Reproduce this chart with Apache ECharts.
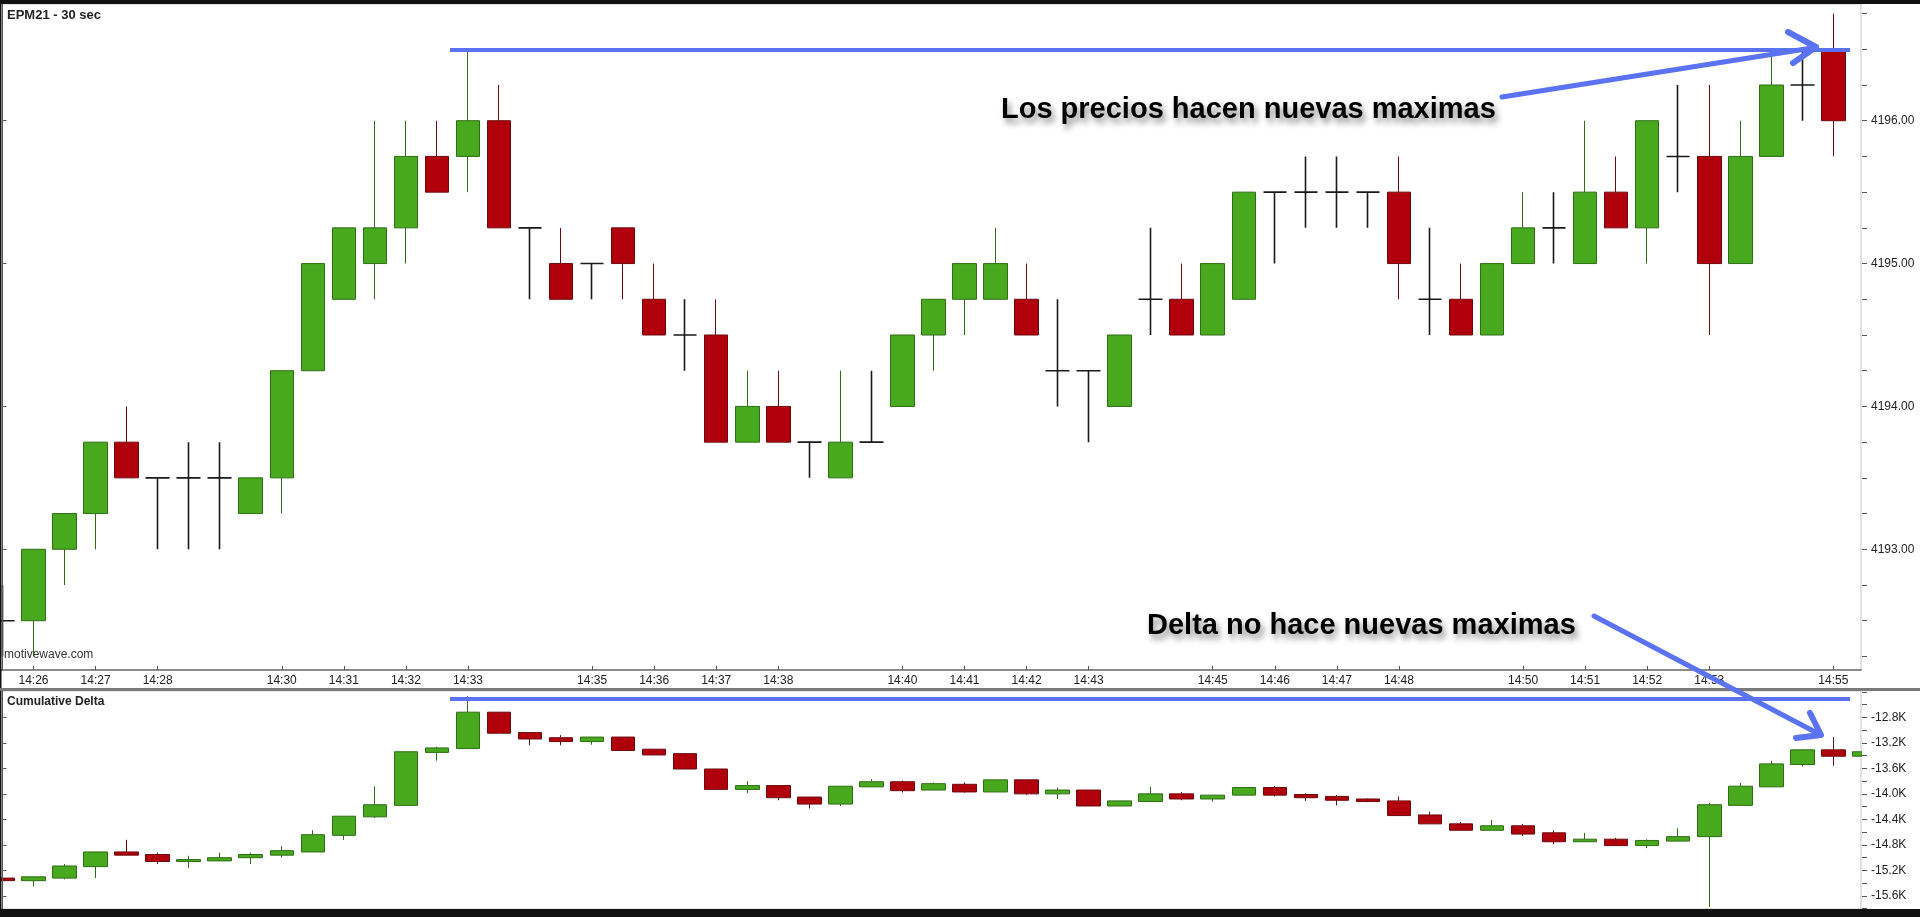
<!DOCTYPE html>
<html>
<head>
<meta charset="utf-8">
<title>EPM21 - 30 sec</title>
<script src="https://cdn.jsdelivr.net/npm/echarts@6/dist/echarts.min.js"></script>
<style>
  html, body { margin: 0; padding: 0; background: #fff; }
  #chart { width: 1920px; height: 917px; }
</style>
</head>
<body>
<div id="chart"></div>
<script>
// 30 second bars
const times = [
  '14:25:30', '14:26:00', '14:26:30', '14:27:00', '14:27:30', '14:28:00', '14:28:30', '14:29:00', '14:29:30', '14:30:00',
  '14:30:30', '14:31:00', '14:31:30', '14:32:00', '14:32:30', '14:33:00', '14:33:30', '14:34:00', '14:34:30', '14:35:00',
  '14:35:30', '14:36:00', '14:36:30', '14:37:00', '14:37:30', '14:38:00', '14:38:30', '14:39:00', '14:39:30', '14:40:00',
  '14:40:30', '14:41:00', '14:41:30', '14:42:00', '14:42:30', '14:43:00', '14:43:30', '14:44:00', '14:44:30', '14:45:00',
  '14:45:30', '14:46:00', '14:46:30', '14:47:00', '14:47:30', '14:48:00', '14:48:30', '14:49:00', '14:49:30', '14:50:00',
  '14:50:30', '14:51:00', '14:51:30', '14:52:00', '14:52:30', '14:53:00', '14:53:30', '14:54:00', '14:54:30', '14:55:00',
  '14:55:30'
];
const timeLabels = ['14:26', '14:27', '14:28', '14:30', '14:31', '14:32', '14:33', '14:35', '14:36', '14:37', '14:38',
  '14:40', '14:41', '14:42', '14:43', '14:45', '14:46', '14:47', '14:48', '14:50', '14:51', '14:52', '14:53', '14:55'];

// EPM21 price bars
const priceOpen = [4192.5, 4192.5, 4193, 4193.25, 4193.75, 4193.5, 4193.5, 4193.5, 4193.25, 4193.5,
  4194.25, 4194.75, 4195, 4195.25, 4195.75, 4195.75, 4196, 4195.25, 4195, 4195,
  4195.25, 4194.75, 4194.5, 4194.5, 4193.75, 4194, 4193.75, 4193.5, 4193.75, 4194,
  4194.5, 4194.75, 4194.75, 4194.75, 4194.25, 4194.25, 4194, 4194.75, 4194.75, 4194.5,
  4194.75, 4195.5, 4195.5, 4195.5, 4195.5, 4195.5, 4194.75, 4194.75, 4194.5, 4195,
  4195.25, 4195, 4195.5, 4195.25, 4195.75, 4195.75, 4195, 4195.75, 4196.25, 4196.5];
const priceHigh = [4192.75, 4193, 4193.25, 4193.75, 4194, 4193.5, 4193.75, 4193.75, 4193.5, 4194.25,
  4195, 4195.25, 4196, 4196, 4196, 4196.5, 4196.25, 4195.25, 4195.25, 4195,
  4195.25, 4195, 4194.75, 4194.75, 4194.25, 4194.25, 4193.75, 4194.25, 4194.25, 4194.5,
  4194.75, 4195, 4195.25, 4195, 4194.75, 4194.25, 4194.5, 4195.25, 4195, 4195,
  4195.5, 4195.5, 4195.75, 4195.75, 4195.5, 4195.75, 4195.25, 4195, 4195, 4195.5,
  4195.5, 4196, 4195.75, 4196, 4196.25, 4196.25, 4196, 4196.5, 4196.5, 4196.75];
const priceLow = [4192.25, 4192.25, 4192.75, 4193, 4193.5, 4193, 4193, 4193, 4193.25, 4193.25,
  4194.25, 4194.75, 4194.75, 4195, 4195.5, 4195.5, 4195.25, 4194.75, 4194.75, 4194.75,
  4194.75, 4194.5, 4194.25, 4193.75, 4193.75, 4193.75, 4193.5, 4193.5, 4193.75, 4194,
  4194.25, 4194.5, 4194.75, 4194.5, 4194, 4193.75, 4194, 4194.5, 4194.5, 4194.5,
  4194.75, 4195, 4195.25, 4195.25, 4195.25, 4194.75, 4194.5, 4194.5, 4194.5, 4195,
  4195, 4195, 4195.25, 4195, 4195.5, 4194.5, 4195, 4195.75, 4196, 4195.75];
const priceClose = [4192.5, 4193, 4193.25, 4193.75, 4193.5, 4193.5, 4193.5, 4193.5, 4193.5, 4194.25,
  4195, 4195.25, 4195.25, 4195.75, 4195.5, 4196, 4195.25, 4195.25, 4194.75, 4195,
  4195, 4194.5, 4194.5, 4193.75, 4194, 4193.75, 4193.75, 4193.75, 4193.75, 4194.5,
  4194.75, 4195, 4195, 4194.5, 4194.25, 4194.25, 4194.5, 4194.75, 4194.5, 4195,
  4195.5, 4195.5, 4195.5, 4195.5, 4195.5, 4195, 4194.75, 4194.5, 4195, 4195.25,
  4195.25, 4195.5, 4195.25, 4196, 4195.75, 4195, 4195.75, 4196.25, 4196.25, 4196];
const priceTicks = [4193, 4194, 4195, 4196];

// Cumulative Delta bars (thousands)
const deltaOpen = [-15.32, -15.36, -15.32, -15.14, -14.91, -14.95, -15.06, -15.05, -15.00, -14.96,
  -14.91, -14.65, -14.36, -14.18, -13.35, -13.29, -12.72, -13.04, -13.12, -13.18,
  -13.11, -13.30, -13.37, -13.61, -13.93, -13.87, -14.05, -14.16, -13.89, -13.81,
  -13.94, -13.85, -13.97, -13.78, -14.00, -13.94, -14.19, -14.12, -14.00, -14.08,
  -14.02, -13.90, -14.01, -14.04, -14.08, -14.11, -14.33, -14.47, -14.57, -14.50,
  -14.61, -14.75, -14.71, -14.81, -14.74, -14.67, -14.18, -13.89, -13.54, -13.31,
  -13.41];
const deltaHigh = [-15.27, -15.30, -15.10, -14.91, -14.72, -14.92, -14.97, -14.92, -14.92, -14.82,
  -14.57, -14.35, -13.88, -13.34, -13.26, -12.47, -12.72, -13.04, -13.08, -13.11,
  -13.11, -13.30, -13.37, -13.61, -13.80, -13.86, -14.05, -13.88, -13.77, -13.79,
  -13.82, -13.82, -13.78, -13.78, -13.90, -13.94, -14.11, -13.89, -13.97, -14.02,
  -13.90, -13.88, -13.99, -14.02, -14.07, -14.04, -14.28, -14.44, -14.41, -14.47,
  -14.57, -14.61, -14.69, -14.71, -14.54, -14.14, -13.83, -13.48, -13.30, -13.11,
  -13.34];
const deltaLow = [-15.40, -15.45, -15.34, -15.32, -14.96, -15.10, -15.16, -15.05, -15.10, -15.00,
  -14.91, -14.72, -14.38, -14.18, -13.48, -13.29, -13.05, -13.24, -13.24, -13.23,
  -13.32, -13.39, -13.61, -13.93, -13.99, -14.10, -14.23, -14.19, -13.89, -13.98,
  -13.94, -13.98, -13.97, -14.02, -14.08, -14.19, -14.19, -14.12, -14.10, -14.12,
  -14.02, -14.04, -14.11, -14.18, -14.13, -14.34, -14.47, -14.57, -14.57, -14.66,
  -14.79, -14.75, -14.81, -14.85, -14.74, -15.77, -14.19, -13.89, -13.57, -13.56,
  -13.41];
const deltaClose = [-15.36, -15.30, -15.13, -14.91, -14.96, -15.06, -15.03, -15.00, -14.95, -14.89,
  -14.64, -14.35, -14.17, -13.34, -13.28, -12.72, -13.05, -13.14, -13.18, -13.11,
  -13.32, -13.39, -13.61, -13.93, -13.87, -14.06, -14.16, -13.88, -13.81, -13.95,
  -13.84, -13.97, -13.78, -14.00, -13.94, -14.19, -14.11, -14.00, -14.08, -14.02,
  -13.90, -14.02, -14.06, -14.10, -14.12, -14.34, -14.47, -14.57, -14.50, -14.63,
  -14.75, -14.71, -14.81, -14.73, -14.67, -14.17, -13.88, -13.53, -13.31, -13.41,
  -13.34];
const deltaTicks = [-12.8, -13.2, -13.6, -14.0, -14.4, -14.8, -15.2, -15.6];

const newHighPrice = 4196.5;
const deltaRefLevel = -12.51;

const blue = '#5b72f2';
const font = '"Liberation Sans", Arial, sans-serif';

function buildBars(o, h, l, c) {
  return o.map((open, i) => {
    const item = { value: [i, open, c[i], l[i], h[i]] };
    if (open === c[i]) {
      item.itemStyle = { borderColor: '#1a1a1a', borderColor0: '#1a1a1a', borderColorDoji: '#1a1a1a', borderWidth: 1.6 };
    }
    return item;
  });
}

function steps(min, max, step) {
  const out = [];
  for (let v = Math.ceil(min / step) * step; v <= max; v += step) out.push(+v.toFixed(4));
  return out;
}

const xMin = -0.08, xMax = 59.89;
const priceMin = 4192.155, priceMax = 4196.817;
const deltaMin = -15.804, deltaMax = -12.388;

const labelIdx = timeLabels.map(t => times.indexOf(t + ':00'));
const firstHighIdx = times.indexOf('14:33:00');
const lastIdx = priceOpen.length - 1;

function labelAxis(gridIndex, min, max, ticks, fmt) {
  return {
    type: 'value', gridIndex, position: 'right', offset: 6, min, max, z: 10,
    axisLine: { show: true, lineStyle: { color: '#555', width: 1 } },
    axisTick: { show: true, customValues: ticks, length: 4, lineStyle: { color: '#555' } },
    axisLabel: { customValues: ticks, formatter: fmt, margin: 4, color: '#222', fontSize: 12, fontFamily: font },
    splitLine: { show: false }
  };
}
function minorAxis(gridIndex, min, max, step) {
  return {
    type: 'value', gridIndex, position: 'right', offset: 6, min, max, z: 10,
    axisLine: { show: false },
    axisTick: { show: true, inside: true, customValues: steps(min, max, step), length: 5, lineStyle: { color: '#555' } },
    axisLabel: { show: false },
    splitLine: { show: false }
  };
}

const chart = echarts.init(document.getElementById('chart'));

const option = {
  animation: false,
  backgroundColor: '#fff',
  grid: [
    { left: 0, top: 4, width: 1861, height: 666, show: true, borderColor: '#c8c8c8', borderWidth: 1 },
    { left: 0, top: 691, width: 1861, height: 218, show: true, borderColor: '#c8c8c8', borderWidth: 1 }
  ],
  xAxis: [
    {
      type: 'value', gridIndex: 0, min: xMin, max: xMax,
      axisLine: { show: true, lineStyle: { color: '#8a8a8a', width: 2 } },
      axisTick: { show: true, inside: true, length: 4, customValues: labelIdx, lineStyle: { color: '#555' } },
      axisLabel: {
        customValues: labelIdx, margin: 5, color: '#222', fontSize: 12, fontFamily: font,
        formatter: v => times[Math.round(v)].slice(0, 5)
      },
      splitLine: { show: false }
    },
    {
      type: 'value', gridIndex: 1, min: xMin, max: xMax,
      axisLine: { show: true, lineStyle: { color: '#aaa', width: 1 } },
      axisTick: { show: false }, axisLabel: { show: false }, splitLine: { show: false }
    }
  ],
  yAxis: [
    labelAxis(0, priceMin, priceMax, priceTicks, v => v.toFixed(2)),
    minorAxis(0, priceMin, priceMax, 0.25),
    labelAxis(1, deltaMin, deltaMax, deltaTicks, v => v.toFixed(1) + 'K'),
    minorAxis(1, deltaMin, deltaMax, 0.2)
  ],
  series: [
    {
      name: 'EPM21', type: 'candlestick', xAxisIndex: 0, yAxisIndex: 0,
      encode: { x: 0, y: [1, 2, 3, 4] },
      barWidth: 24,
      itemStyle: { color: '#48a81e', color0: '#b0000c', borderColor: '#2e6e14', borderColor0: '#6e0a0e', borderColorDoji: '#1a1a1a', borderWidth: 1 },
      data: buildBars(priceOpen, priceHigh, priceLow, priceClose),
      markLine: {
        silent: true, symbol: 'none', label: { show: false },
        lineStyle: { color: blue, width: 4, type: 'solid' },
        data: [[{ coord: [firstHighIdx - 0.58, newHighPrice] }, { coord: [lastIdx + 0.54, newHighPrice] }]]
      }
    },
    {
      name: 'Cumulative Delta', type: 'candlestick', xAxisIndex: 1, yAxisIndex: 2,
      encode: { x: 0, y: [1, 2, 3, 4] },
      barWidth: 24,
      itemStyle: { color: '#48a81e', color0: '#b0000c', borderColor: '#2e6e14', borderColor0: '#6e0a0e', borderWidth: 1 },
      data: buildBars(deltaOpen, deltaHigh, deltaLow, deltaClose),
      markLine: {
        silent: true, symbol: 'none', label: { show: false },
        lineStyle: { color: blue, width: 4, type: 'solid' },
        data: [[{ coord: [firstHighIdx - 0.58, deltaRefLevel] }, { coord: [lastIdx + 0.54, deltaRefLevel] }]]
      }
    }
  ],
  graphic: [
    // trims the bar cut by the right edge of the plot
    { type: 'rect', z: 5, shape: { x: 1862, y: 691, width: 58, height: 218 }, style: { fill: '#fff' } },
    { type: 'rect', z: 100, shape: { x: 0, y: 0, width: 1920, height: 4 }, style: { fill: '#111' } },
    { type: 'rect', z: 100, shape: { x: 0, y: 909, width: 1920, height: 8 }, style: { fill: '#111' } },
    { type: 'rect', z: 100, shape: { x: 0, y: 0, width: 1.5, height: 917 }, style: { fill: '#111' } },
    { type: 'rect', z: 100, shape: { x: 0, y: 688, width: 1920, height: 3 }, style: { fill: '#7a7a7a' } },
    { type: 'text', z: 100, left: 7, top: 9, style: { text: 'EPM21 - 30 sec', font: 'bold 13px ' + font, fill: '#222' } },
    { type: 'text', z: 100, left: 4, top: 649, style: { text: 'motivewave.com', font: '12px ' + font, fill: '#333' } },
    { type: 'text', z: 100, left: 7, top: 696, style: { text: 'Cumulative Delta', font: 'bold 12px ' + font, fill: '#222' } },
    {
      type: 'text', z: 110, x: 1001, y: 110,
      style: {
        text: 'Los precios hacen nuevas maximas', font: 'bold 29px ' + font, fill: '#000',
        verticalAlign: 'middle', textShadowColor: 'rgba(0,0,0,0.45)', textShadowBlur: 6, textShadowOffsetX: 3, textShadowOffsetY: 5
      }
    },
    {
      type: 'text', z: 110, x: 1147, y: 626,
      style: {
        text: 'Delta no hace nuevas maximas', font: 'bold 29px ' + font, fill: '#000',
        verticalAlign: 'middle', textShadowColor: 'rgba(0,0,0,0.45)', textShadowBlur: 6, textShadowOffsetX: 3, textShadowOffsetY: 5
      }
    },
    // hand drawn arrows
    { type: 'polyline', z: 110, shape: { points: [[1502, 97], [1812, 48]] }, style: { stroke: blue, lineWidth: 5, lineCap: 'round' } },
    { type: 'polyline', z: 110, shape: { points: [[1788, 32], [1816, 47], [1793, 63]] }, style: { stroke: blue, fill: null, lineWidth: 6, lineCap: 'round', lineJoin: 'round' } },
    { type: 'polyline', z: 110, shape: { points: [[1594, 616], [1819, 734]] }, style: { stroke: blue, lineWidth: 5, lineCap: 'round' } },
    { type: 'polyline', z: 110, shape: { points: [[1810, 713], [1821, 735], [1796, 738]] }, style: { stroke: blue, fill: null, lineWidth: 6, lineCap: 'round', lineJoin: 'round' } }
  ]
};

chart.setOption(option);
</script>
</body>
</html>
